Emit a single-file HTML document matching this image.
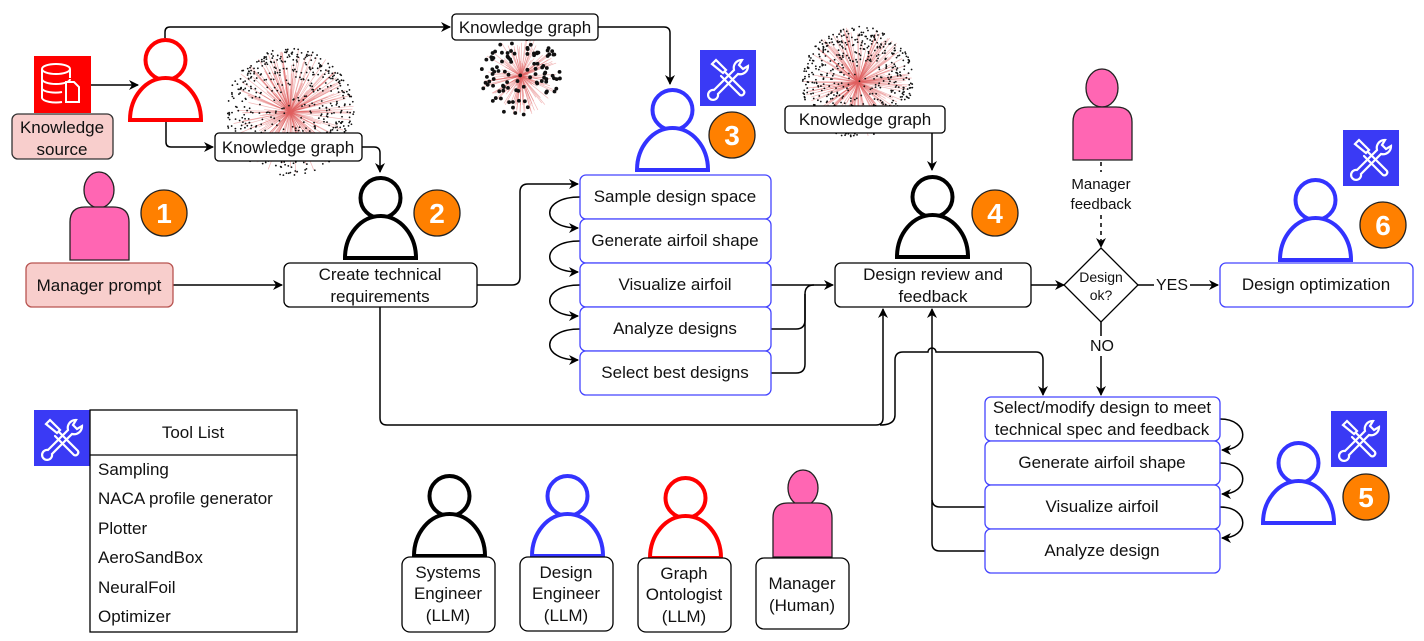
<!DOCTYPE html>
<html><head><meta charset="utf-8"><style>
html,body{margin:0;padding:0;background:#fff}
svg{display:block}
text{font-family:"Liberation Sans",sans-serif;fill:#111}
</style></head><body>
<svg id="s" width="1424" height="641" viewBox="0 0 1424 641" xmlns="http://www.w3.org/2000/svg">
<defs>
<marker id="a" viewBox="0 0 10 10" refX="9" refY="5" markerWidth="10" markerHeight="10" markerUnits="userSpaceOnUse" orient="auto"><path d="M0,0 L10,5 L0,10 L3,5 Z" fill="#000"/></marker>
<g id="tool"><rect width="56" height="56" fill="#3a3af5"/>
<g fill="none" stroke="#fff" stroke-width="2.2" stroke-linecap="round">
<path d="M12,14 L16,10 L26,20 L23,23 Z"/><path d="M25,22 L44,41 a3,3 0 0 1 -4,4 L21,26"/>
<path d="M42,10 a8,8 0 0 0 -8,10 L14,40 a5,5 0 1 0 4,4 L38,24 a8,8 0 0 0 10,-8 l-5,3 -4,-4 3,-5 z"/></g></g>
<g id="pb"><circle cx="37.5" cy="22" r="20" fill="#fff"/><path d="M2,82 A35.5,42 0 0 1 73,82 Z" fill="#fff"/></g>
</defs>
<g id="kg"></g>
<g fill="none" stroke="#000" stroke-width="1.5">
<path d="M165,38 V32 Q165,27 170,27 H450" marker-end="url(#a)"/>
<path d="M598,27 H664 Q670,27 670,33 V84" marker-end="url(#a)"/>
<path d="M91,85 H138" marker-end="url(#a)"/>
<path d="M166,122 V142 Q166,147 171,147 H213" marker-end="url(#a)"/>
<path d="M362,147 H374 Q380,147 380,153 V172" marker-end="url(#a)"/>
<path d="M932,133 V170" marker-end="url(#a)"/>
<path d="M173,285 H282" marker-end="url(#a)"/>
<path d="M477,285 H512 Q520,285 520,277 V192 Q520,184 528,184 H578" marker-end="url(#a)"/>
<path d="M580,197 C540,197 540,228 578,228" marker-end="url(#a)"/>
<path d="M580,241 C540,241 540,272 578,272" marker-end="url(#a)"/>
<path d="M580,285 C540,285 540,316 578,316" marker-end="url(#a)"/>
<path d="M580,329 C540,329 540,360 578,360" marker-end="url(#a)"/>
<path d="M771,285 H833" marker-end="url(#a)"/>
<path d="M771,329 H796 Q805,329 805,320 V294 Q805,285 814,285"/>
<path d="M771,373 H796 Q805,373 805,364 V294"/>
<path d="M1031,285 H1064" marker-end="url(#a)"/>
<path d="M1138,285 H1154 M1190,285 H1218" marker-end="url(#a)"/>
<path d="M1101,215 V247" stroke-dasharray="4,4" marker-end="url(#a)"/>
<path d="M1101,130 V172" stroke-dasharray="4,4"/>
<path d="M1101,322 V336 M1101,356 V395" marker-end="url(#a)"/>
<path d="M380,307 V418 Q380,425 387,425 H876 Q883,425 883,418 V309" marker-end="url(#a)"/>
<path d="M880,425 Q895,425 895,415 V360 Q895,352 903,352 H928 a4,4 0 0 1 8,0 H1036 Q1043,352 1043,360 V395" marker-end="url(#a)"/>
<path d="M985,507 H940 Q932,507 932,499 V309" marker-end="url(#a)"/>
<path d="M985,551 H940 Q932,551 932,543 V500"/>
<path d="M1220,419 C1250,419 1250,450 1222,450" marker-end="url(#a)"/>
<path d="M1220,463 C1250,463 1250,494 1222,494" marker-end="url(#a)"/>
<path d="M1220,507 C1250,507 1250,538 1222,538" marker-end="url(#a)"/>
</g>
<rect x="34" y="56" width="57" height="57" fill="#f00"/>
<g fill="none" stroke="#fff" stroke-width="2"><ellipse cx="56" cy="69" rx="14" ry="5"/><path d="M42,69 V98 a14,5 0 0 0 20,4 M42,79 a14,5 0 0 0 28,0 M42,89 a14,5 0 0 0 20,3 M70,69 V78"/><path d="M66,82 h8 l5,5 v15 h-13 z"/></g>
<rect x="12" y="114" width="101" height="45" rx="6" fill="#f8cecc" stroke="#333" stroke-width="1.3"/>
<text x="62" y="133" font-size="17" text-anchor="middle">Knowledge</text><text x="62" y="155" font-size="17" text-anchor="middle">source</text>
<g fill="#fff" stroke="#000" stroke-width="1.3">
<rect x="452" y="14" width="146" height="26" rx="4"/><rect x="215" y="133" width="147" height="28" rx="4"/><rect x="785" y="106" width="160" height="27" rx="4"/></g>
<text x="525" y="33" font-size="17" text-anchor="middle">Knowledge graph</text>
<text x="288" y="153" font-size="17" text-anchor="middle">Knowledge graph</text>
<text x="865" y="125" font-size="17" text-anchor="middle">Knowledge graph</text>
<g stroke-width="4">
<use href="#pb" x="128" y="38" stroke="#f00"/>
<use href="#pb" x="343" y="176" stroke="#000"/>
<use href="#pb" x="635" y="88" stroke="#3333ff"/>
<use href="#pb" x="895" y="175" stroke="#000"/>
<use href="#pb" x="1278" y="178" stroke="#3333ff"/>
<use href="#pb" x="1261" y="441" stroke="#3333ff"/>
<use href="#pb" x="412" y="474" stroke="#000"/>
<use href="#pb" x="530" y="474" stroke="#3333ff"/>
<use href="#pb" x="648" y="476" stroke="#f00"/>
</g>
<g fill="#ff66b3" stroke="#222" stroke-width="1.3">
<ellipse cx="99" cy="190" rx="15" ry="18"/><path d="M70,260 V222 Q70,207 85,207 H113 Q129,207 129,222 V260 Z"/>
<ellipse cx="1102" cy="88" rx="16" ry="19"/><path d="M1073,160 V122 Q1073,107 1088,107 H1116 Q1132,107 1132,122 V160 Z"/>
<ellipse cx="803" cy="488" rx="15" ry="18"/><path d="M773,557 V518 Q773,503 788,503 H817 Q832,503 832,518 V557 Z"/>
</g>
<g fill="#ff8000" stroke="#222" stroke-width="1.3">
<circle cx="164" cy="213" r="23"/><circle cx="437" cy="213" r="23"/><circle cx="732" cy="135" r="23"/><circle cx="995" cy="213" r="23"/><circle cx="1383" cy="225" r="23"/><circle cx="1366" cy="497" r="23"/></g>
<g font-size="28" font-weight="bold" text-anchor="middle">
<text x="164" y="223" style="fill:#fff">1</text><text x="437" y="223" style="fill:#fff">2</text><text x="732" y="145" style="fill:#fff">3</text><text x="995" y="223" style="fill:#fff">4</text><text x="1383" y="235" style="fill:#fff">6</text><text x="1366" y="507" style="fill:#fff">5</text></g>
<use href="#tool" x="700" y="50"/><use href="#tool" x="1343" y="130"/><use href="#tool" x="1331" y="411"/><use href="#tool" x="34" y="410"/>
<rect x="26" y="263" width="147" height="44" rx="6" fill="#f8cecc" stroke="#b85450" stroke-width="1.3"/>
<text x="99" y="291" font-size="17" text-anchor="middle">Manager prompt</text>
<g fill="#fff" stroke="#000" stroke-width="1.3">
<rect x="284" y="263" width="193" height="44" rx="6"/><rect x="835" y="263" width="196" height="44" rx="6"/></g>
<text x="380" y="280" font-size="17" text-anchor="middle">Create technical</text><text x="380" y="302" font-size="17" text-anchor="middle">requirements</text>
<text x="933" y="280" font-size="17" text-anchor="middle">Design review and</text><text x="933" y="302" font-size="17" text-anchor="middle">feedback</text>
<g fill="#fff" stroke="#4444ff" stroke-width="1.3">
<rect x="580" y="175" width="191" height="44" rx="6"/><rect x="580" y="219" width="191" height="44" rx="6"/><rect x="580" y="263" width="191" height="44" rx="6"/><rect x="580" y="307" width="191" height="44" rx="6"/><rect x="580" y="351" width="191" height="44" rx="6"/>
<rect x="1220" y="263" width="193" height="44" rx="6"/>
<rect x="985" y="397" width="235" height="44" rx="6"/><rect x="985" y="441" width="235" height="44" rx="6"/><rect x="985" y="485" width="235" height="44" rx="6"/><rect x="985" y="529" width="235" height="44" rx="6"/>
</g>
<g font-size="17" text-anchor="middle">
<text x="675" y="202">Sample design space</text><text x="675" y="246">Generate airfoil shape</text><text x="675" y="290">Visualize airfoil</text><text x="675" y="334">Analyze designs</text><text x="675" y="378">Select best designs</text>
<text x="1316" y="290">Design optimization</text>
<text x="1102" y="413">Select/modify design to meet</text><text x="1102" y="435">technical spec and feedback</text>
<text x="1102" y="468">Generate airfoil shape</text><text x="1102" y="512">Visualize airfoil</text><text x="1102" y="556">Analyze design</text>
</g>
<path d="M1101,248 L1138,285 L1101,322 L1064,285 Z" fill="#fff" stroke="#000" stroke-width="1.3"/>
<text x="1101" y="282" font-size="14" text-anchor="middle">Design</text><text x="1101" y="300" font-size="14" text-anchor="middle">ok?</text>
<text x="1172" y="290" font-size="16" text-anchor="middle">YES</text>
<text x="1102" y="351" font-size="16" text-anchor="middle">NO</text>
<rect x="1065" y="172" width="72" height="43" fill="#fff"/>
<text x="1101" y="189" font-size="15" text-anchor="middle">Manager</text><text x="1101" y="209" font-size="15" text-anchor="middle">feedback</text>
<rect x="90" y="410" width="207" height="222" fill="#fff" stroke="#000" stroke-width="1.3"/>
<line x1="90" y1="455" x2="297" y2="455" stroke="#000" stroke-width="1.3"/>
<g font-size="17"><text x="193" y="438" text-anchor="middle">Tool List</text>
<text x="98" y="475">Sampling</text><text x="98" y="504">NACA profile generator</text><text x="98" y="534">Plotter</text><text x="98" y="563">AeroSandBox</text><text x="98" y="593">NeuralFoil</text><text x="98" y="622">Optimizer</text></g>
<g fill="#fff" stroke="#000" stroke-width="1.3">
<rect x="402" y="557" width="93" height="75" rx="8"/><rect x="520" y="557" width="93" height="74" rx="8"/><rect x="638" y="558" width="93" height="74" rx="8"/><rect x="756" y="558" width="93" height="71" rx="8"/></g>
<g font-size="17" text-anchor="middle">
<text x="448" y="578">Systems</text><text x="448" y="599">Engineer</text><text x="448" y="621">(LLM)</text>
<text x="566" y="578">Design</text><text x="566" y="599">Engineer</text><text x="566" y="621">(LLM)</text>
<text x="684" y="579">Graph</text><text x="684" y="600">Ontologist</text><text x="684" y="622">(LLM)</text>
<text x="802" y="589">Manager</text><text x="802" y="611">(Human)</text></g>
</svg>
<script>
(function(){
var g=document.getElementById('kg'),seed=7;
function r(){seed=(seed*16807)%2147483647;return seed/2147483647;}
function cloud(cx,cy,R,n,lines,dot,p){
 var s='';
 for(var i=0;i<lines;i++){var a=r()*6.283,d=Math.sqrt(r())*R;s+='<line x1="'+cx+'" y1="'+cy+'" x2="'+(cx+Math.cos(a)*d)+'" y2="'+(cy+Math.sin(a)*d)+'" stroke="#e06060" stroke-opacity="0.45" stroke-width="0.7"/>';}
 for(var i=0;i<n;i++){var a=r()*6.283,d=Math.pow(r(),p)*R;s+='<circle cx="'+(cx+Math.cos(a)*d)+'" cy="'+(cy+Math.sin(a)*d)+'" r="'+dot+'" fill="#111"/>';}
 return s;}
g.innerHTML=cloud(290,112,64,550,200,0.9,0.35)+cloud(858,82,56,550,200,0.9,0.35)+cloud(521,76,40,100,140,1.9,0.5);
})();
</script>
</body></html>
